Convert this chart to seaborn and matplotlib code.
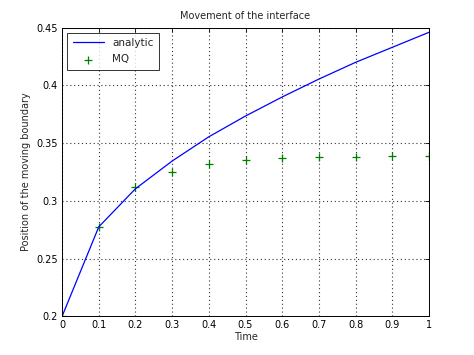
import pandas as pd
import seaborn as sns
import matplotlib.pyplot as plt
from matplotlib.ticker import FuncFormatter

sns.set_theme(style="white")
plt.rcParams['font.family'] = ['DejaVu Sans']

# data
time = [0.0, 0.1, 0.2, 0.3, 0.4, 0.5, 0.6, 0.7, 0.8, 0.9, 1.0]
analytic = [0.200, 0.2775, 0.3105, 0.3345, 0.3555, 0.3735, 0.3900, 0.4055, 0.4200, 0.4330, 0.4460]
mq = [0.200, 0.2770, 0.3120, 0.3250, 0.3315, 0.3350, 0.3370, 0.3378, 0.3380, 0.3385, 0.3385]

df = pd.DataFrame({'Time': time, 'analytic': analytic, 'MQ': mq})

fig = plt.figure(figsize=(4.74, 3.55), dpi=100)
ax = fig.add_axes([0.131, 0.109, 0.774, 0.813])

sns.lineplot(data=df, x='Time', y='analytic', color=(0, 0, 1), lw=0.9, ax=ax, label='analytic')
sns.scatterplot(data=df, x='Time', y='MQ', marker='+', color=(0, 0.5, 0), s=32, linewidth=0.9, ax=ax, label='MQ')

ax.set_xlim(0, 1)
ax.set_ylim(0.2, 0.45)
ax.set_xticks(time)
ax.set_yticks([0.2, 0.25, 0.3, 0.35, 0.4, 0.45])
ax.xaxis.set_major_formatter(FuncFormatter(lambda v, p: '%g' % round(v, 2)))
ax.yaxis.set_major_formatter(FuncFormatter(lambda v, p: '%g' % round(v, 2)))
ax.tick_params(direction='in', top=True, right=True, length=3, width=0.6, labelsize=7, pad=3, colors='black')
ax.grid(True, linestyle=(0, (1, 2.5)), color='#333333', lw=0.8)
for s in ax.spines.values():
    s.set_color('black')
    s.set_linewidth(0.7)

ax.set_xlabel('Time', fontsize=7, labelpad=1)
ax.set_ylabel('Position of the moving boundary', fontsize=7, labelpad=4)
ax.set_title('Movement of the interface', fontsize=7, pad=6)

leg = ax.legend(loc='upper left', fontsize=7.5, frameon=True, fancybox=False, borderaxespad=0.5,
                handlelength=3, labelspacing=0.6, borderpad=0.5)
leg.get_frame().set_edgecolor('black')
leg.get_frame().set_linewidth(0.7)

fig.savefig('out.png', dpi=100)
